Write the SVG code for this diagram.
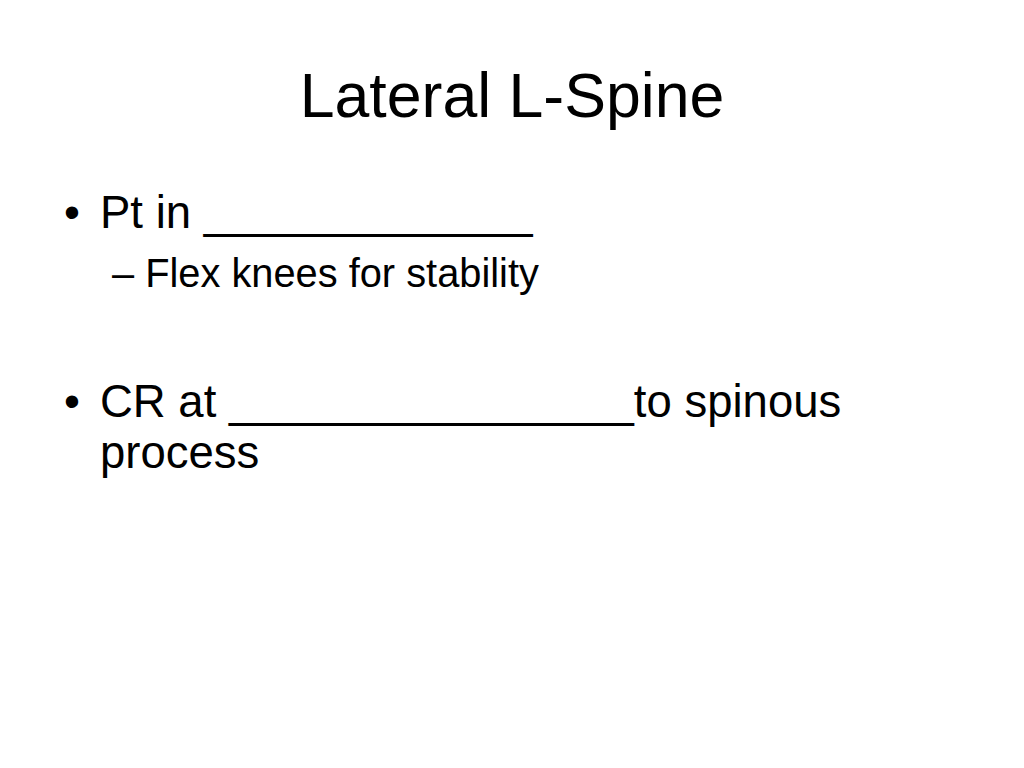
<svg xmlns="http://www.w3.org/2000/svg" width="1024" height="768" viewBox="0 0 1024 768">
<style>
text{font-family:"Liberation Sans",Arial,sans-serif;fill:#000}
.t{font-size:62.6px}
.b{font-size:45.5px}
.s{font-size:39.8px}
</style>
<rect width="1024" height="768" fill="#fff"/>
<g id="title"><text class="t" x="512" y="117" text-anchor="middle">Lateral L-Spine</text></g>
<g id="bullet1">
<text class="b" x="64" y="228">•</text>
<text class="b" x="100" y="228">Pt in _____________</text>
</g>
<g id="sub1"><text class="s" x="112" y="287">– Flex knees for stability</text></g>
<g id="bullet2">
<text class="b" x="64" y="417">•</text>
<text class="b" x="100" y="417">CR at ________________to spinous</text>
<text class="b" x="100" y="468">process</text>
</g>
</svg>
